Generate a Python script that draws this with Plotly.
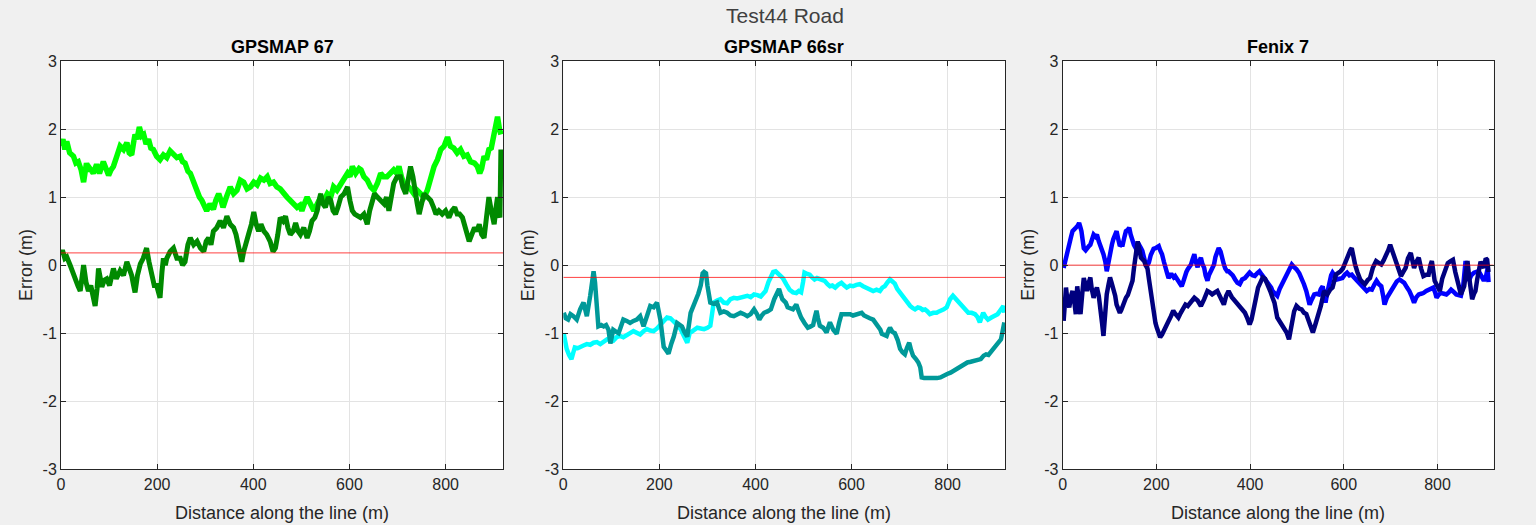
import plotly.graph_objects as go

# ---------------- data ----------------
# GPSMAP 67
g67_light_x = [0,4,8,12,18,26,31,36,42,47,53,57,60,67,74,80,88,93,99,104,109,116,123,130,137,142,147,151,154,158,163,168,172,177,182,187,192,199,206,213,220,227,234,241,248,253,258,264,269,276,283,288,293,298,303,310,317,322,328,333,337,344,352,359,366,373,380,387,394,401,408,415,422,429,435,442,449,456,463,470,477,484,491,497,501,506,512,519,526,533,540,547,554,561,567,574,582,589,596,601,606,613,620,624,630,637,644,651,658,665,671,678,685,692,698,703,708,713,719,724,729,734,741,748,755,762,769,776,783,790,797,804,810,817,824,831,838,845,852,860,866,871,875,880,885,890,895,901,905,908,912,915]
g67_light_y = [1.75,1.85,1.7,1.82,1.65,1.6,1.5,1.52,1.4,1.22,1.5,1.38,1.42,1.35,1.48,1.35,1.52,1.4,1.32,1.4,1.45,1.6,1.75,1.7,1.8,1.65,1.62,1.8,1.92,1.85,2.03,1.9,1.92,1.78,1.85,1.72,1.7,1.6,1.55,1.62,1.58,1.68,1.62,1.58,1.6,1.52,1.5,1.38,1.35,1.2,1.1,1.0,0.95,0.85,0.8,0.9,0.82,0.95,1.05,0.95,0.85,1.0,1.15,1.05,1.1,1.25,1.22,1.12,1.15,1.22,1.18,1.28,1.25,1.3,1.2,1.22,1.15,1.12,1.05,1.0,0.95,0.9,0.85,0.88,0.8,0.9,1.0,0.9,0.8,0.9,1.0,0.95,1.05,1.0,1.15,1.1,1.2,1.3,1.35,1.3,1.45,1.35,1.42,1.4,1.3,1.25,1.15,1.1,1.2,1.35,1.3,1.3,1.35,1.4,1.35,1.45,1.3,1.2,1.18,1.15,1.1,1.05,1.1,1.05,1.0,1.1,1.3,1.45,1.55,1.7,1.75,1.88,1.75,1.72,1.65,1.7,1.6,1.62,1.52,1.5,1.45,1.35,1.42,1.6,1.55,1.7,1.72,1.95,2.05,2.18,2.0,1.92]
g67_dark_x = [0,3,8,12,19,24,29,35,40,44,47,52,57,62,67,71,75,78,82,85,90,95,101,109,115,123,130,137,142,147,151,154,159,165,171,178,183,189,194,199,204,206,210,213,217,220,227,234,241,248,253,258,264,269,276,283,290,297,302,307,312,317,324,331,338,345,352,359,364,369,373,376,380,385,390,396,401,406,411,416,422,428,435,441,446,451,456,462,467,472,477,483,488,493,498,505,512,517,522,528,533,537,540,545,550,556,561,566,571,576,582,589,596,601,606,611,616,623,630,634,637,642,647,652,658,665,672,677,682,687,692,699,706,711,717,722,727,732,737,741,745,750,755,762,769,775,780,786,793,800,807,813,819,824,829,835,840,845,849,855,860,865,870,875,880,885,890,895,901,905,908,911,913,915]
g67_dark_y = [0.15,0.22,0.1,0.12,0.0,-0.1,-0.22,-0.3,-0.38,-0.15,0.0,-0.25,-0.38,-0.3,-0.45,-0.6,-0.35,-0.05,-0.2,-0.32,-0.22,-0.2,-0.3,-0.05,-0.2,-0.08,-0.15,0.05,-0.05,-0.15,-0.3,-0.4,-0.15,0.02,0.1,0.25,0.05,-0.2,-0.3,-0.3,-0.42,-0.48,-0.1,0.1,0.0,0.1,0.2,0.25,0.1,0.1,0.0,0.05,0.3,0.4,0.3,0.35,0.25,0.2,0.35,0.4,0.3,0.5,0.55,0.65,0.55,0.72,0.6,0.55,0.45,0.3,0.15,0.05,0.2,0.3,0.45,0.6,0.78,0.6,0.5,0.6,0.5,0.45,0.35,0.2,0.25,0.45,0.7,0.65,0.72,0.55,0.45,0.5,0.62,0.5,0.45,0.55,0.4,0.5,0.65,0.7,0.8,0.95,1.05,0.9,0.85,1.0,0.95,0.8,0.75,0.85,1.0,1.05,1.15,0.95,0.8,0.75,0.72,0.7,0.75,0.62,0.6,0.8,0.95,1.05,1.0,0.95,0.9,1.0,0.8,1.0,1.2,1.3,1.3,1.15,1.05,1.25,1.45,1.3,1.0,0.9,0.75,0.9,1.05,1.0,0.95,0.85,0.75,0.8,0.75,0.8,0.7,0.8,0.85,0.75,0.75,0.7,0.6,0.45,0.35,0.45,0.55,0.5,0.6,0.45,0.4,0.7,1.0,0.8,0.6,0.85,1.0,0.75,0.7,1.7]
g67_ref_y = 0.18

# GPSMAP 66sr
g66_teal_x = [1,5,10,15,21,28,35,42,49,53,56,60,63,66,68,73,79,84,89,94,98,101,104,110,115,120,125,132,139,146,153,160,167,174,181,188,195,202,209,214,219,225,230,237,242,247,252,258,265,270,275,281,286,290,293,297,300,306,313,320,327,334,341,348,355,362,369,376,383,390,397,403,408,413,418,425,432,439,444,449,452,456,463,467,478,485,490,495,502,509,515,520,524,527,530,534,541,548,552,555,562,569,574,579,588,597,603,610,615,621,626,631,638,645,650,656,660,663,668,673,677,680,685,690,696,701,706,711,715,720,724,728,734,739,743,746,751,757,764,771,778,785,792,799,806,813,820,827,834,841,848,855,862,869,875,880,885,890,895,900,905,911,915,918]
g66_teal_y = [-0.70,-0.78,-0.80,-0.72,-0.75,-0.80,-0.65,-0.55,-0.75,-0.62,-0.45,-0.25,-0.09,-0.25,-0.45,-0.90,-0.88,-0.90,-0.88,-0.95,-1.15,-1.0,-0.95,-0.98,-1.0,-0.9,-0.80,-0.82,-0.85,-0.82,-0.80,-0.75,-0.90,-0.75,-0.60,-0.62,-0.55,-0.80,-1.2,-1.25,-1.3,-1.15,-1.05,-0.85,-0.88,-0.9,-0.98,-1.05,-0.70,-0.62,-0.55,-0.42,-0.30,-0.12,-0.1,-0.12,-0.3,-0.55,-0.57,-0.55,-0.70,-0.68,-0.70,-0.74,-0.75,-0.72,-0.70,-0.72,-0.75,-0.72,-0.65,-0.72,-0.80,-0.74,-0.70,-0.68,-0.65,-0.50,-0.42,-0.35,-0.42,-0.5,-0.55,-0.62,-0.65,-0.58,-0.68,-0.77,-0.85,-0.92,-0.90,-0.88,-0.75,-0.67,-0.78,-0.89,-0.92,-0.99,-0.9,-0.84,-0.95,-1.01,-0.85,-0.72,-0.72,-0.72,-0.74,-0.72,-0.71,-0.70,-0.74,-0.75,-0.78,-0.80,-0.85,-0.89,-0.95,-1.01,-1.02,-1.04,-0.96,-0.92,-0.98,-1.0,-1.1,-1.23,-1.28,-1.31,-1.22,-1.14,-1.25,-1.33,-1.38,-1.43,-1.5,-1.65,-1.66,-1.66,-1.67,-1.67,-1.66,-1.65,-1.62,-1.60,-1.58,-1.55,-1.52,-1.48,-1.46,-1.43,-1.42,-1.41,-1.40,-1.38,-1.33,-1.31,-1.32,-1.28,-1.24,-1.19,-1.15,-1.09,-0.95,-0.84]
g66_cyan_x = [1,4,7,12,17,21,24,30,35,42,49,56,63,70,77,84,91,98,104,111,118,125,132,139,146,153,160,167,174,181,188,195,202,209,216,223,230,237,244,251,255,258,263,268,274,279,286,293,300,306,310,313,320,327,334,341,348,355,362,369,376,383,390,397,404,411,416,421,427,432,437,442,448,453,457,464,471,478,485,490,495,499,502,508,513,518,523,528,534,539,544,550,555,560,566,572,579,585,590,597,603,610,617,624,631,638,645,652,659,664,669,675,680,685,690,695,701,706,711,716,722,727,732,738,743,748,753,758,763,770,777,782,787,792,798,802,805,811,817,822,827,832,838,843,850,857,862,867,871,874,879,884,891,898,904,909,913,916,918]
g66_cyan_y = [-1.01,-1.15,-1.23,-1.32,-1.38,-1.28,-1.21,-1.22,-1.21,-1.18,-1.16,-1.17,-1.14,-1.13,-1.16,-1.12,-1.09,-1.10,-1.11,-1.06,-1.04,-1.06,-1.02,-1.0,-0.97,-1.0,-1.02,-0.97,-0.94,-0.96,-0.97,-0.93,-0.87,-0.82,-0.77,-0.78,-0.82,-0.88,-0.94,-1.05,-1.12,-1.14,-1.0,-0.97,-0.93,-0.92,-0.93,-0.94,-0.92,-0.89,-0.7,-0.55,-0.52,-0.50,-0.55,-0.56,-0.50,-0.48,-0.49,-0.48,-0.46,-0.45,-0.47,-0.43,-0.44,-0.46,-0.42,-0.38,-0.25,-0.16,-0.1,-0.09,-0.14,-0.17,-0.19,-0.28,-0.36,-0.40,-0.41,-0.38,-0.40,-0.25,-0.11,-0.13,-0.14,-0.18,-0.21,-0.19,-0.20,-0.22,-0.23,-0.28,-0.31,-0.30,-0.33,-0.29,-0.26,-0.30,-0.33,-0.30,-0.31,-0.29,-0.28,-0.31,-0.33,-0.35,-0.38,-0.36,-0.38,-0.33,-0.31,-0.25,-0.21,-0.24,-0.27,-0.35,-0.41,-0.46,-0.50,-0.55,-0.60,-0.63,-0.65,-0.62,-0.63,-0.66,-0.65,-0.68,-0.72,-0.70,-0.70,-0.68,-0.67,-0.65,-0.62,-0.55,-0.50,-0.45,-0.50,-0.55,-0.58,-0.62,-0.66,-0.70,-0.70,-0.72,-0.76,-0.84,-0.76,-0.70,-0.76,-0.80,-0.77,-0.75,-0.72,-0.67,-0.62,-0.60,-0.70]
g66_ref_y = -0.18

# Fenix 7
f7_navy_x = [2,5,7,10,14,18,21,25,28,31,34,38,42,45,49,52,56,59,62,66,70,73,77,80,84,87,90,94,98,101,104,108,112,115,119,122,125,128,132,135,139,142,146,149,152,156,160,163,167,171,174,177,181,184,188,191,194,198,201,205,208,212,215,220,226,231,236,241,247,252,257,262,267,274,281,288,295,302,309,314,319,325,330,337,344,349,354,361,368,373,378,384,389,394,399,403,406,412,417,422,427,432,438,443,448,452,458,463,468,473,478,483,486,489,494,499,505,510,515,520,527,534,539,544,551,558,565,571,576,583,588,593,598,603,607,610,614,617,620,624,629,635,640,645,651,656,662,669,675,680,685,690,695,699,704,708,712,715,722,727,732,737,743,747,750,755,760,765,770,776,781,785,788,794,800,805,810,815,822,828,833,838,843,850,857,864,868,874,878,881,885,888,892,895,899,903,906,909]
f7_navy_y = [-0.82,-0.50,-0.33,-0.52,-0.62,-0.45,-0.38,-0.55,-0.72,-0.31,-0.50,-0.72,-0.40,-0.19,-0.30,-0.38,-0.25,-0.18,-0.35,-0.48,-0.38,-0.33,-0.45,-0.58,-0.85,-1.04,-0.75,-0.43,-0.28,-0.18,-0.25,-0.33,-0.45,-0.58,-0.65,-0.70,-0.66,-0.60,-0.52,-0.48,-0.44,-0.38,-0.32,-0.23,-0.05,0.16,0.35,0.25,0.11,0.08,0.06,0.0,-0.05,-0.2,-0.38,-0.55,-0.72,-0.85,-0.92,-1.0,-1.06,-1.02,-0.97,-0.9,-0.82,-0.75,-0.67,-0.72,-0.77,-0.70,-0.62,-0.58,-0.60,-0.55,-0.48,-0.52,-0.60,-0.50,-0.38,-0.40,-0.43,-0.40,-0.38,-0.48,-0.58,-0.45,-0.38,-0.47,-0.53,-0.58,-0.62,-0.66,-0.70,-0.78,-0.87,-0.80,-0.67,-0.50,-0.33,-0.25,-0.18,-0.20,-0.28,-0.38,-0.48,-0.55,-0.77,-0.82,-0.87,-0.93,-0.99,-1.09,-0.95,-0.82,-0.68,-0.60,-0.64,-0.65,-0.70,-0.72,-0.87,-0.99,-0.88,-0.77,-0.60,-0.38,-0.43,-0.36,-0.33,-0.14,-0.12,-0.09,-0.05,0.03,0.12,0.18,0.22,0.25,0.1,0.01,-0.1,-0.21,-0.25,-0.28,-0.22,-0.19,-0.04,0.06,0.03,0.01,0.07,0.13,0.22,0.30,0.2,0.16,0.05,0.01,-0.16,-0.10,-0.04,0.10,0.18,0.05,-0.04,0.05,0.11,-0.05,-0.16,-0.14,-0.14,0.0,0.06,-0.23,-0.32,-0.38,-0.2,-0.09,0.03,0.06,0.08,-0.1,-0.26,-0.43,-0.31,0.06,-0.2,-0.50,-0.42,-0.38,-0.2,-0.11,0.05,0.01,-0.04,0.1,0.08,-0.1]
f7_blue_x = [2,5,7,10,14,18,21,25,28,32,35,38,40,43,45,49,52,56,59,63,66,70,73,77,80,84,87,91,94,98,101,105,108,111,115,118,122,125,128,132,135,139,142,145,149,152,156,160,163,167,170,174,177,181,184,188,191,194,198,201,205,208,212,216,219,223,226,230,233,237,240,244,247,251,254,257,260,264,267,271,274,277,281,284,288,291,295,298,302,305,309,312,316,319,323,326,330,333,337,340,344,347,351,354,358,363,368,373,378,383,389,394,399,405,410,415,420,425,431,436,441,445,448,452,458,463,468,473,478,484,489,494,499,505,510,515,520,524,527,532,537,542,547,551,555,558,561,565,569,573,576,581,586,591,597,602,607,612,617,622,628,633,638,644,649,655,660,665,670,675,680,684,687,692,698,703,708,713,719,724,729,735,740,745,750,755,760,765,770,776,781,786,791,795,798,803,808,814,819,824,829,834,840,845,850,855,860,863,867,872,878,883,888,893,899,904,907,909]
f7_blue_y = [-0.04,0.05,0.16,0.22,0.30,0.42,0.50,0.52,0.55,0.58,0.62,0.55,0.50,0.35,0.25,0.22,0.26,0.28,0.30,0.38,0.45,0.42,0.45,0.35,0.30,0.22,0.16,0.05,-0.09,0.05,0.21,0.30,0.38,0.45,0.50,0.40,0.28,0.30,0.30,0.42,0.50,0.52,0.55,0.45,0.35,0.30,0.25,0.28,0.30,0.25,0.21,0.10,0.01,0.0,0.04,0.15,0.22,0.24,0.25,0.27,0.28,0.22,0.16,0.05,-0.06,-0.12,-0.19,-0.14,-0.14,-0.18,-0.16,-0.20,-0.23,-0.28,-0.31,-0.25,-0.16,-0.10,-0.06,-0.02,0.01,0.08,0.16,0.05,-0.03,0.05,0.11,0.02,-0.04,-0.15,-0.23,-0.15,-0.09,-0.04,0.01,0.12,0.22,0.25,0.20,0.08,0.01,-0.05,-0.09,-0.09,-0.11,-0.15,-0.21,-0.26,-0.28,-0.21,-0.19,-0.14,-0.11,-0.15,-0.16,-0.12,-0.09,-0.14,-0.19,-0.24,-0.28,-0.33,-0.38,-0.40,-0.45,-0.35,-0.28,-0.18,-0.11,-0.03,0.01,-0.03,-0.06,-0.12,-0.19,-0.28,-0.38,-0.48,-0.58,-0.50,-0.43,-0.42,-0.43,-0.35,-0.31,-0.45,-0.55,-0.40,-0.23,-0.15,-0.11,-0.15,-0.21,-0.20,-0.19,-0.14,-0.11,-0.15,-0.14,-0.18,-0.23,-0.25,-0.31,-0.34,-0.38,-0.35,-0.36,-0.29,-0.23,-0.28,-0.31,-0.45,-0.58,-0.48,-0.41,-0.33,-0.28,-0.24,-0.21,-0.24,-0.26,-0.33,-0.38,-0.46,-0.55,-0.47,-0.43,-0.42,-0.41,-0.38,-0.36,-0.35,-0.33,-0.40,-0.48,-0.43,-0.41,-0.42,-0.43,-0.40,-0.36,-0.39,-0.43,-0.44,-0.45,-0.30,0.06,-0.10,-0.23,-0.15,-0.11,-0.10,-0.09,-0.15,-0.23,-0.15,-0.05,-0.25]
f7_ref_y = 0.0

x_range = [0, 920]
y_range = [-3, 3]
x_ticks = [0, 200, 400, 600, 800]
x_ticktext = ["0", "200", "400", "600", "800"]
y_ticks = [-3, -2, -1, 0, 1, 2, 3]
y_ticktext = ["-3", "-2", "-1", "0", "1", "2", "3"]
titles = ["GPSMAP 67", "GPSMAP 66sr", "Fenix 7"]
suptitle = "Test44 Road"
xlabel = "Distance along the line (m)"
ylabel = "Error (m)"

# ---------------- layout helpers ----------------
W, H = 1536, 525
FONT = "Liberation Sans, Arial, Helvetica, sans-serif"
TXT = "#262626"

# pixel boxes of the three axes (left, right)
boxes = [(61, 503.3), (563.3, 1005.3), (1062.7, 1493.7)]
top_px, bot_px = 61, 469.3
ydom = [1 - bot_px / H, 1 - top_px / H]

fig = go.Figure()

series = [
    [(g67_light_x, g67_light_y, "#00ff00", 5.5), (g67_dark_x, g67_dark_y, "#008a00", 5.0)],
    [(g66_cyan_x, g66_cyan_y, "#00ffff", 4.5), (g66_teal_x, g66_teal_y, "#009999", 4.5)],
    [(f7_blue_x, f7_blue_y, "#0000ff", 4.5), (f7_navy_x, f7_navy_y, "#00007f", 4.5)],
]
refs = [g67_ref_y, g66_ref_y, f7_ref_y]

for i in range(3):
    xa = "x" if i == 0 else f"x{i+1}"
    ya = "y" if i == 0 else f"y{i+1}"
    for xs, ys, col, lw in series[i]:
        fig.add_trace(go.Scatter(x=xs, y=ys, mode="lines", xaxis=xa, yaxis=ya,
                                 line=dict(color=col, width=lw), showlegend=False))
    fig.add_trace(go.Scatter(x=x_range, y=[refs[i], refs[i]], mode="lines", xaxis=xa, yaxis=ya,
                             line=dict(color="rgba(255,0,0,0.75)", width=1), showlegend=False))

axis_common = dict(showline=True, linecolor=TXT, linewidth=1, mirror="ticks",
                   ticks="inside", ticklen=5, tickcolor=TXT, showgrid=True,
                   gridcolor="#e3e3e3", gridwidth=1, zeroline=False, automargin=False,
                   tickfont=dict(family=FONT, size=16, color=TXT))

layout = dict(width=W, height=H, autosize=False, paper_bgcolor="#f0f0f0", plot_bgcolor="#ffffff",
              margin=dict(l=0, r=0, t=0, b=0, pad=0, autoexpand=False),
              showlegend=False, annotations=[])

for i, (l, r) in enumerate(boxes):
    sx = "" if i == 0 else str(i + 1)
    layout["xaxis" + sx] = dict(axis_common, domain=[l / W, r / W], range=x_range,
                                tickvals=x_ticks, ticktext=x_ticktext, anchor="y" + sx)
    layout["yaxis" + sx] = dict(axis_common, domain=ydom, range=y_range,
                                tickvals=y_ticks, ticktext=y_ticktext, anchor="x" + sx)
    cx = (l + r) / 2 / W
    layout["annotations"].append(dict(text="<b>" + titles[i] + "</b>", x=cx, y=1 - 47 / H,
                                      xref="paper", yref="paper", showarrow=False,
                                      font=dict(family=FONT, size=18, color="#000000"),
                                      xanchor="center", yanchor="middle"))
    layout["annotations"].append(dict(text=xlabel, x=cx, y=1 - 513 / H,
                                      xref="paper", yref="paper", showarrow=False,
                                      font=dict(family=FONT, size=18, color=TXT),
                                      xanchor="center", yanchor="middle"))
    layout["annotations"].append(dict(text=ylabel, x=(l - 35) / W, y=1 - 265 / H,
                                      xref="paper", yref="paper", showarrow=False, textangle=-90,
                                      font=dict(family=FONT, size=18, color=TXT),
                                      xanchor="center", yanchor="middle"))

layout["annotations"].append(dict(text=suptitle, x=785 / W, y=1 - 15 / H, xref="paper", yref="paper",
                                  showarrow=False, font=dict(family=FONT, size=21, color="#404040"),
                                  xanchor="center", yanchor="middle"))

fig.update_layout(**layout)
fig.write_html("out.html",
               post_script="document.body.style.margin='0';document.body.style.overflow='hidden';")
